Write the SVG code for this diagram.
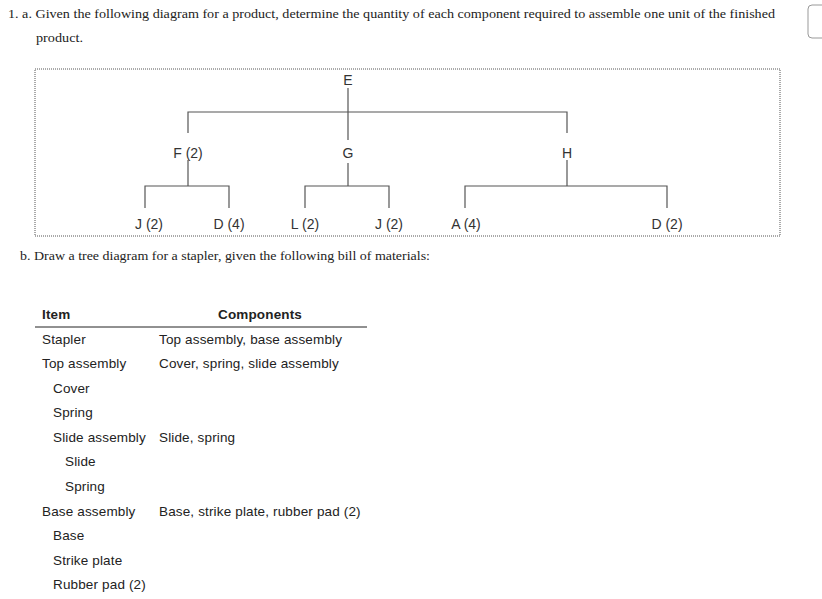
<svg xmlns="http://www.w3.org/2000/svg" width="822" height="599" viewBox="0 0 822 599">
<style>
.q{font-family:"Liberation Serif",serif;font-size:13px;fill:#222}
.t{font-family:"Liberation Sans",sans-serif;font-size:13.5px;letter-spacing:0.15px;fill:#222}
.b{font-weight:bold}
.n{font-family:"Liberation Sans",sans-serif;font-size:14px;fill:#333;text-anchor:middle}
.l{stroke:#555;stroke-width:1.2;fill:none}
</style>
<rect width="822" height="599" fill="#fff"/>
<path d="M812 5 H822 M812 5 Q808 5 808 9 V34 Q808 38 812 38 H822" fill="none" stroke="#999"/>
<text class="q" x="8" y="18" textLength="767" lengthAdjust="spacingAndGlyphs">1. a. Given the following diagram for a product, determine the quantity of each component required to assemble one unit of the finished</text>
<text class="q" x="36" y="42" textLength="47" lengthAdjust="spacingAndGlyphs">product.</text>
<rect x="35" y="69" width="745" height="167" fill="none" stroke="#555" stroke-dasharray="1,1"/>
<g id="connectors" class="l">
<path d="M348 88 V140 M188 133 V112 H567 V133"/>
<path d="M188 160 V186 M145 208 V186 H229 V208"/>
<path d="M348 163 V186 M305 208 V186 H389 V208"/>
<path d="M567 160 V186 M465 208 V186 H667 V208"/>
</g>
<g id="E"><text class="n" x="348" y="85">E</text></g>
<g id="F"><text class="n" x="188" y="158">F (2)</text></g>
<g id="G"><text class="n" x="348" y="158">G</text></g>
<g id="H"><text class="n" x="567" y="158">H</text></g>
<g id="J1"><text class="n" x="149" y="229">J (2)</text></g>
<g id="D4"><text class="n" x="229" y="229">D (4)</text></g>
<g id="L2"><text class="n" x="305" y="229">L (2)</text></g>
<g id="J2"><text class="n" x="389" y="229">J (2)</text></g>
<g id="A4"><text class="n" x="466" y="229">A (4)</text></g>
<g id="D2"><text class="n" x="667" y="229">D (2)</text></g>
<text class="q" x="20" y="260" textLength="410" lengthAdjust="spacingAndGlyphs">b. Draw a tree diagram for a stapler, given the following bill of materials:</text>
<text class="t b" x="42" y="319">Item</text>
<text class="t b" x="218" y="319">Components</text>
<line x1="35" y1="327" x2="367" y2="327" stroke="#222" stroke-width="1"/>
<g class="t">
<text x="42" y="344">Stapler</text><text x="159" y="344">Top assembly, base assembly</text>
<text x="42" y="368">Top assembly</text><text x="159" y="368">Cover, spring, slide assembly</text>
<text x="53" y="393">Cover</text>
<text x="53" y="417">Spring</text>
<text x="53" y="442">Slide assembly</text><text x="159" y="442">Slide, spring</text>
<text x="65" y="466">Slide</text>
<text x="65" y="491">Spring</text>
<text x="42" y="516">Base assembly</text><text x="159" y="516">Base, strike plate, rubber pad (2)</text>
<text x="53" y="540">Base</text>
<text x="53" y="565">Strike plate</text>
<text x="53" y="589">Rubber pad (2)</text>
</g>
</svg>
